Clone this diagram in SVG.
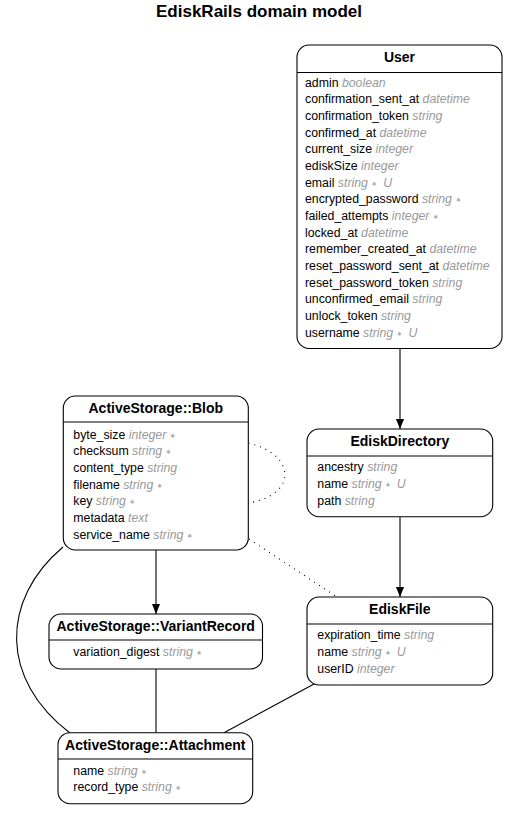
<svg xmlns="http://www.w3.org/2000/svg" width="515" height="813" viewBox="0 0 515 813">
<style>
  .box { fill: #ffffff; stroke: #000000; stroke-width: 1.1; }
  .sep { stroke: #000000; stroke-width: 1.1; }
  .title { font-family: "Liberation Sans", Arial, sans-serif; font-size: 17px; font-weight: bold; fill: #000; text-anchor: middle; }
  .hdr { font-family: "Liberation Sans", Arial, sans-serif; font-size: 14px; font-weight: bold; fill: #000; text-anchor: middle; }
  .row { font-family: "Liberation Sans", Arial, sans-serif; font-size: 12.3px; fill: #000; }
  .typ { fill: #999999; font-style: italic; }
  .st { font-family: "DejaVu Sans", sans-serif; font-size: 7px; font-style: normal; fill: #999999; }
  .edge { fill: none; stroke: #000000; stroke-width: 1.1; }
  .dot { fill: none; stroke: #000000; stroke-width: 1.1; stroke-dasharray: 1 5; }
</style>
<defs>
  <marker id="arrow" markerWidth="10" markerHeight="12" refX="10" refY="4" orient="auto" markerUnits="userSpaceOnUse" viewBox="0 0 10 8">
    <path d="M0,0 L10,4 L0,8 Z" fill="#000"/>
  </marker>
</defs>
<rect width="515" height="813" fill="#ffffff"/>
<text class="title" x="259" y="16.7">EdiskRails domain model</text>

<g id="connectors">
  <line class="edge" x1="400" y1="348.5" x2="400" y2="429" marker-end="url(#arrow)"/>
  <line class="edge" x1="400" y1="517" x2="400" y2="597" marker-end="url(#arrow)"/>
  <line class="edge" x1="156" y1="550" x2="156" y2="614" marker-end="url(#arrow)"/>
  <line class="edge" x1="156" y1="669" x2="156" y2="732.7"/>
  <line class="edge" x1="314" y1="684" x2="224" y2="732.7"/>
  <path class="edge" d="M63,547 C0,600 0,680 70,733"/>
  <path class="dot" d="M248.5,443 C297,455 297,495 248.5,503"/>
  <line class="dot" x1="249" y1="539" x2="337" y2="597"/>
</g>

<g id="User">
  <rect class="box" x="297" y="45" width="205" height="303.5" rx="12" ry="12"/>
  <line class="sep" x1="297" y1="72.5" x2="502" y2="72.5"/>
  <text class="hdr" x="399.5" y="62">User</text>
  <text class="row" x="305" y="86.7">admin <tspan class="typ">boolean</tspan></text>
  <text class="row" x="305" y="103.4">confirmation_sent_at <tspan class="typ">datetime</tspan></text>
  <text class="row" x="305" y="120">confirmation_token <tspan class="typ">string</tspan></text>
  <text class="row" x="305" y="136.7">confirmed_at <tspan class="typ">datetime</tspan></text>
  <text class="row" x="305" y="153.4">current_size <tspan class="typ">integer</tspan></text>
  <text class="row" x="305" y="170">ediskSize <tspan class="typ">integer</tspan></text>
  <text class="row" x="305" y="186.7">email <tspan class="typ">string </tspan><tspan class="st" dy="-1">∗</tspan><tspan class="typ" dx="6" dy="1">U</tspan></text>
  <text class="row" x="305" y="203.4">encrypted_password <tspan class="typ">string </tspan><tspan class="st" dy="-1">∗</tspan></text>
  <text class="row" x="305" y="220">failed_attempts <tspan class="typ">integer </tspan><tspan class="st" dy="-1">∗</tspan></text>
  <text class="row" x="305" y="236.7">locked_at <tspan class="typ">datetime</tspan></text>
  <text class="row" x="305" y="253.4">remember_created_at <tspan class="typ">datetime</tspan></text>
  <text class="row" x="305" y="270">reset_password_sent_at <tspan class="typ">datetime</tspan></text>
  <text class="row" x="305" y="286.7">reset_password_token <tspan class="typ">string</tspan></text>
  <text class="row" x="305" y="303.4">unconfirmed_email <tspan class="typ">string</tspan></text>
  <text class="row" x="305" y="320">unlock_token <tspan class="typ">string</tspan></text>
  <text class="row" x="305" y="336.7">username <tspan class="typ">string </tspan><tspan class="st" dy="-1">∗</tspan><tspan class="typ" dx="6" dy="1">U</tspan></text>
</g>

<g id="ActiveStorage_Blob">
  <rect class="box" x="63.3" y="396" width="185" height="154" rx="12" ry="12"/>
  <line class="sep" x1="63.3" y1="422" x2="248.3" y2="422"/>
  <text class="hdr" x="155.8" y="412.7">ActiveStorage::Blob</text>
  <text class="row" x="73.3" y="438.5">byte_size <tspan class="typ">integer </tspan><tspan class="st" dy="-1">∗</tspan></text>
  <text class="row" x="73.3" y="455.2">checksum <tspan class="typ">string </tspan><tspan class="st" dy="-1">∗</tspan></text>
  <text class="row" x="73.3" y="471.8">content_type <tspan class="typ">string</tspan></text>
  <text class="row" x="73.3" y="488.5">filename <tspan class="typ">string </tspan><tspan class="st" dy="-1">∗</tspan></text>
  <text class="row" x="73.3" y="505.2">key <tspan class="typ">string </tspan><tspan class="st" dy="-1">∗</tspan></text>
  <text class="row" x="73.3" y="521.8">metadata <tspan class="typ">text</tspan></text>
  <text class="row" x="73.3" y="538.5">service_name <tspan class="typ">string </tspan><tspan class="st" dy="-1">∗</tspan></text>
</g>

<g id="EdiskDirectory">
  <rect class="box" x="307" y="429" width="185.7" height="87.7" rx="12" ry="12"/>
  <line class="sep" x1="307" y1="456" x2="492.7" y2="456"/>
  <text class="hdr" x="399.8" y="446">EdiskDirectory</text>
  <text class="row" x="317.3" y="471.3">ancestry <tspan class="typ">string</tspan></text>
  <text class="row" x="317.3" y="488">name <tspan class="typ">string </tspan><tspan class="st" dy="-1">∗</tspan><tspan class="typ" dx="6" dy="1">U</tspan></text>
  <text class="row" x="317.3" y="504.6">path <tspan class="typ">string</tspan></text>
</g>

<g id="EdiskFile">
  <rect class="box" x="307" y="597" width="185.7" height="88" rx="12" ry="12"/>
  <line class="sep" x1="307" y1="624" x2="492.7" y2="624"/>
  <text class="hdr" x="399.8" y="614">EdiskFile</text>
  <text class="row" x="317.3" y="639.3">expiration_time <tspan class="typ">string</tspan></text>
  <text class="row" x="317.3" y="656">name <tspan class="typ">string </tspan><tspan class="st" dy="-1">∗</tspan><tspan class="typ" dx="6" dy="1">U</tspan></text>
  <text class="row" x="317.3" y="672.6">userID <tspan class="typ">integer</tspan></text>
</g>

<g id="ActiveStorage_VariantRecord">
  <rect class="box" x="49" y="614" width="213.5" height="55" rx="12" ry="12"/>
  <line class="sep" x1="49" y1="640" x2="262.5" y2="640"/>
  <text class="hdr" x="155.7" y="631">ActiveStorage::VariantRecord</text>
  <text class="row" x="73.3" y="656.3">variation_digest <tspan class="typ">string </tspan><tspan class="st" dy="-1">∗</tspan></text>
</g>

<g id="ActiveStorage_Attachment">
  <rect class="box" x="58" y="732.7" width="194.7" height="71" rx="12" ry="12"/>
  <line class="sep" x1="58" y1="759" x2="252.7" y2="759"/>
  <text class="hdr" x="155.3" y="749.5">ActiveStorage::Attachment</text>
  <text class="row" x="73.3" y="774.7">name <tspan class="typ">string </tspan><tspan class="st" dy="-1">∗</tspan></text>
  <text class="row" x="73.3" y="791.3">record_type <tspan class="typ">string </tspan><tspan class="st" dy="-1">∗</tspan></text>
</g>
</svg>
